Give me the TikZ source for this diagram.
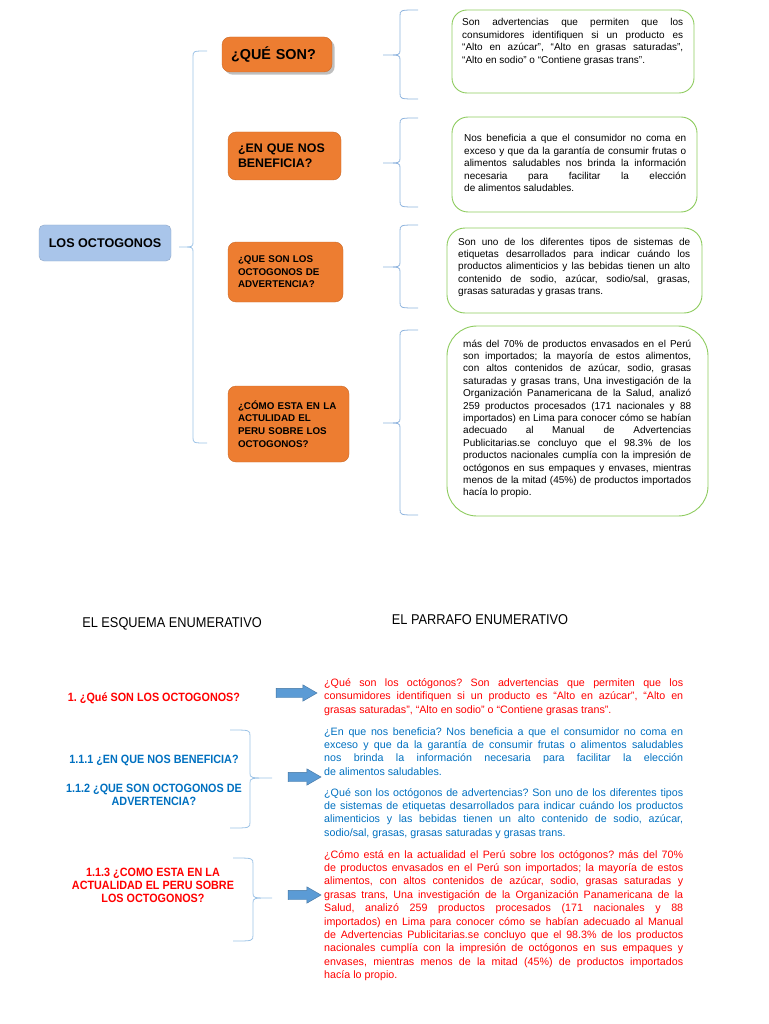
\documentclass[tikz,border=0pt]{standalone}
\usepackage{fontspec}
\setmainfont{Liberation Sans}
\newfontfamily\angosta[FakeStretch=0.9]{Liberation Sans}
\usetikzlibrary{shapes.arrows,shadows}
\hyphenpenalty=10000
\exhyphenpenalty=10000
\frenchspacing

\definecolor{naranja}{HTML}{ED7D31}
\definecolor{celeste}{HTML}{A9C5EA}
\definecolor{verde}{HTML}{8DCB5E}
\definecolor{llavecol}{HTML}{9DC3E6}
\definecolor{llavegris}{HTML}{8FB4DE}
\definecolor{azul}{HTML}{0070C0}
\definecolor{flechacol}{HTML}{5B9BD5}

\tikzset{
    principal/.style={rectangle, rounded corners=5pt, fill=celeste, draw=celeste!85!black,
        minimum width=132, minimum height=36, font=\bfseries\fontsize{12.6}{15}\selectfont},
    pregunta/.style={rectangle, rounded corners=8pt, fill=naranja, draw=naranja!85!black,
        align=left, inner xsep=10pt},
    cuadro/.style={rectangle, draw=verde, line width=0.9pt},
    texto/.style={anchor=base west, inner sep=0pt, align=justify,
        font=\fontsize{10}{12.4}\selectfont},
    parrafo/.style={anchor=base west, inner sep=0pt, text width=359, align=justify,
        font=\fontsize{10.7}{13.4}\selectfont},
    etiqueta/.style={anchor=base, inner sep=0pt, align=center,
        font=\angosta\bfseries\fontsize{12}{13}\selectfont},
    titulo/.style={anchor=base, inner sep=0pt, font=\angosta\fontsize{14.2}{16}\selectfont},
    llave/.style={draw=llavecol, line width=0.8pt},
    flecha/.style={single arrow, single arrow head extend=3.5pt, single arrow tip angle=60,
        fill=flechacol, draw=flechacol!75!black, inner sep=4.5pt}
}

\begin{document}
\begin{tikzpicture}[x=1pt, y=-1pt]
    \useasboundingbox (0,0) rectangle (768,1024);

    % mapa de los octogonos
    \path node[principal] (oct) at (105,243) {LOS OCTOGONOS}
        node[pregunta, drop shadow, text width=92, inner xsep=9pt, minimum height=35,
            font=\bfseries\fontsize{14.4}{17}\selectfont] (q1) at (277,54.5) {¿QUÉ SON?}
        node[pregunta, text width=93, minimum height=48,
            font=\bfseries\fontsize{12.4}{15}\selectfont] (q2) at (284.5,156) {¿EN QUE NOS\\BENEFICIA?}
        node[pregunta, text width=95, minimum height=60,
            font=\bfseries\fontsize{9.8}{12.6}\selectfont] (q3) at (285.5,272) {¿QUE SON LOS\\OCTOGONOS DE\\ADVERTENCIA?}
        node[pregunta, text width=101, minimum height=76,
            font=\bfseries\fontsize{9.8}{12.6}\selectfont] (q4) at (288.5,424) {¿CÓMO ESTA EN LA\\ACTULIDAD EL\\PERU SOBRE LOS\\OCTOGONOS?};

    \path node[cuadro, rounded corners=15pt, minimum width=242, minimum height=83] (r1) at (573,51.5) {}
        node[cuadro, rounded corners=16pt, minimum width=245, minimum height=95] (r2) at (574.5,164.5) {}
        node[cuadro, rounded corners=18pt, minimum width=255, minimum height=85] (r3) at (574.5,270.5) {}
        node[cuadro, rounded corners=30pt, minimum width=261, minimum height=190] (r4) at (577.5,421) {};

    \path node[texto, text width=221] (t1) at (462,26) {Son advertencias que permiten que los\linebreak
            consumidores identifiquen si un producto es\linebreak
            “Alto en azúcar”, “Alto en grasas saturadas”,\linebreak
            “Alto en sodio” o “Contiene grasas trans”.}
        node[texto, text width=222] (t2) at (464,142) {Nos beneficia a que el consumidor no coma en\linebreak
            exceso y que da la garantía de consumir frutas o\linebreak
            alimentos saludables nos brinda la información\linebreak
            necesaria para facilitar la elección\linebreak
            de alimentos saludables.}
        node[texto, text width=232] (t3) at (458,245) {Son uno de los diferentes tipos de sistemas de\linebreak
            etiquetas desarrollados para indicar cuándo los\linebreak
            productos alimenticios y las bebidas tienen un alto\linebreak
            contenido de sodio, azúcar, sodio/sal, grasas,\linebreak
            grasas saturadas y grasas trans.}
        node[texto, text width=228] (t4) at (463,347) {más del 70\% de productos envasados en el Perú\linebreak
            son importados; la mayoría de estos alimentos,\linebreak
            con altos contenidos de azúcar, sodio, grasas\linebreak
            saturadas y grasas trans, Una investigación de la\linebreak
            Organización Panamericana de la Salud, analizó\linebreak
            259 productos procesados (171 nacionales y 88\linebreak
            importados) en Lima para conocer cómo se habían\linebreak
            adecuado al Manual de Advertencias\linebreak
            Publicitarias.se concluyo que el 98.3\% de los\linebreak
            productos nacionales cumplía con la impresión de\linebreak
            octógonos en sus empaques y envases, mientras\linebreak
            menos de la mitad (45\%) de productos importados\linebreak
            hacía lo propio.};

    % llaves
    \draw[llave] (207,51) .. controls (193,51) .. (193,57) -- (193,242)
        .. controls (193,247) .. (179,247) .. controls (193,247) .. (193,252)
        -- (193,437) .. controls (193,443) .. (207,443);
    \foreach \ya/\ym/\yb in {10/55/99, 118/163/207, 225/267/308, 330/423/515}
        \draw[llave, draw=llavegris] (418,\ya) .. controls (400,\ya) .. (400,\ya+6) -- (400,\ym-5)
            .. controls (400,\ym) .. (383,\ym) .. controls (400,\ym) .. (400,\ym+5)
            -- (400,\yb-6) .. controls (400,\yb) .. (418,\yb);

    % esquema y parrafo
    \path node[titulo] (esq) at (172,627) {EL ESQUEMA ENUMERATIVO}
        node[titulo] (par) at (480,624) {EL PARRAFO ENUMERATIVO};

    \path node[etiqueta, text=red] (e1) at (154,701) {1. ¿Qué SON LOS OCTOGONOS?}
        node[etiqueta, text=azul] (e2) at (154,763) {1.1.1 ¿EN QUE NOS BENEFICIA?}
        node[etiqueta, text=azul] (e3) at (154,805) {1.1.2 ¿QUE SON OCTOGONOS DE\\ADVERTENCIA?}
        node[etiqueta, text=red] (e4) at (153,902) {1.1.3 ¿COMO ESTA EN LA\\ACTUALIDAD EL PERU SOBRE\\LOS OCTOGONOS?};

    \draw[llave] (230,730) .. controls (250,730) .. (250,736) -- (250,773)
        .. controls (250,778) .. (272,778) .. controls (250,778) .. (250,783)
        -- (250,822) .. controls (250,828) .. (230,828);
    \draw[llave] (233,858) .. controls (253,858) .. (253,864) -- (253,893)
        .. controls (253,898) .. (272,898) .. controls (253,898) .. (253,903)
        -- (253,935) .. controls (253,941) .. (233,941);

    \path node[flecha, minimum height=41] (f1) at (292.5,693) {}
        node[flecha, minimum height=33] (f2) at (300.5,777) {}
        node[flecha, minimum height=33] (f3) at (300.5,895) {};

    \path node[parrafo, text=red] (p1) at (324,686.5) {¿Qué son los octógonos? Son advertencias que permiten que los\linebreak
            consumidores identifiquen si un producto es “Alto en azúcar”, “Alto en\linebreak
            grasas saturadas”, “Alto en sodio” o “Contiene grasas trans”.}
        node[parrafo, text=azul] (p2) at (324,735) {¿En que nos beneficia? Nos beneficia a que el consumidor no coma en\linebreak
            exceso y que da la garantía de consumir frutas o alimentos saludables\linebreak
            nos brinda la información necesaria para facilitar la elección\linebreak
            de alimentos saludables.}
        node[parrafo, text=azul] (p3) at (324,796) {¿Qué son los octógonos de advertencias? Son uno de los diferentes tipos\linebreak
            de sistemas de etiquetas desarrollados para indicar cuándo los productos\linebreak
            alimenticios y las bebidas tienen un alto contenido de sodio, azúcar,\linebreak
            sodio/sal, grasas, grasas saturadas y grasas trans.}
        node[parrafo, text=red] (p4) at (324,858) {¿Cómo está en la actualidad el Perú sobre los octógonos? más del 70\%\linebreak
            de productos envasados en el Perú son importados; la mayoría de estos\linebreak
            alimentos, con altos contenidos de azúcar, sodio, grasas saturadas y\linebreak
            grasas trans, Una investigación de la Organización Panamericana de la\linebreak
            Salud, analizó 259 productos procesados (171 nacionales y 88\linebreak
            importados) en Lima para conocer cómo se habían adecuado al Manual\linebreak
            de Advertencias Publicitarias.se concluyo que el 98.3\% de los productos\linebreak
            nacionales cumplía con la impresión de octógonos en sus empaques y\linebreak
            envases, mientras menos de la mitad (45\%) de productos importados\linebreak
            hacía lo propio.};
\end{tikzpicture}
\end{document}
